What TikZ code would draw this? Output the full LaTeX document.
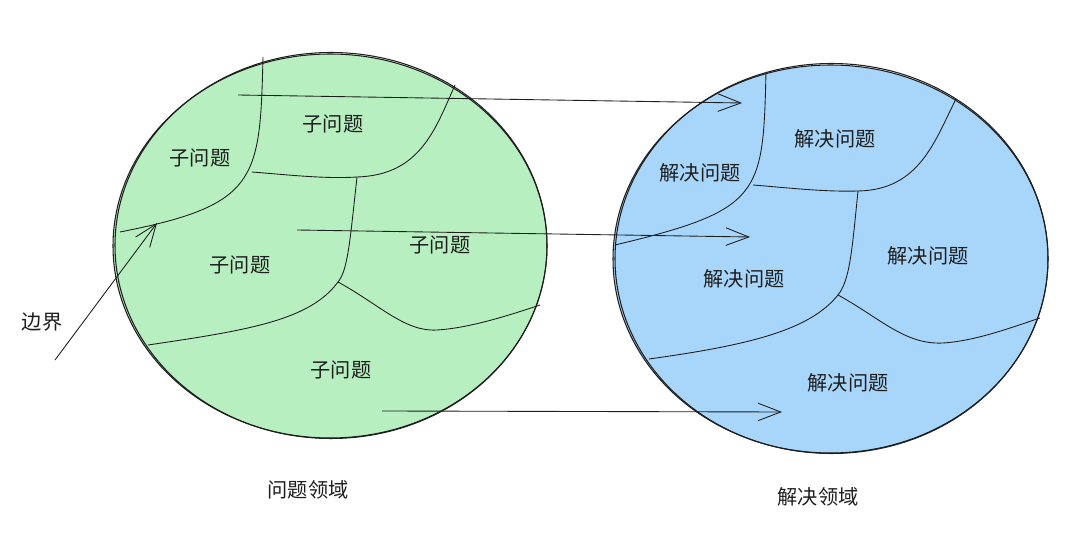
\documentclass[tikz,border=0pt]{standalone}
\usepackage{fontspec}
\setmainfont{Noto Sans CJK SC}
\usetikzlibrary{arrows.meta}
\definecolor{pgreen}{HTML}{B8EFC0}
\definecolor{pblue}{HTML}{A8D6FA}
\definecolor{ink}{HTML}{1E1E1E}
\begin{document}
\begin{tikzpicture}[x=0.02cm,y=-0.02cm,
  outline/.style={draw=ink,line width=0.6pt},
  divider/.style={draw=ink,line width=0.5pt},
  link/.style={draw=ink,line width=0.5pt,-{Straight Barb[length=13pt,width=10pt]}},
  lbl/.style={font=\fontsize{11.5}{13}\selectfont,text=ink,inner sep=0pt}]
\useasboundingbox[fill=white] (0,0) rectangle (1080,533);

% domains
\fill[pgreen] (330,246) ellipse [x radius=217, y radius=192];
\fill[pblue] (830.5,259) ellipse [x radius=217.5, y radius=194];
\path[outline] (330,246) ellipse [x radius=217, y radius=192];
\path[outline] (331,245.5) ellipse [x radius=216, y radius=193];
\path[outline] (830.5,259) ellipse [x radius=217.5, y radius=194];
\path[outline] (831.5,258.5) ellipse [x radius=216.5, y radius=195];

% green dividers
\coordinate (g1a) at (263,57);
\coordinate (g1b) at (120,232);
\coordinate (g2a) at (252,172);
\coordinate (gj) at (357,177);
\coordinate (g2b) at (455,85);
\coordinate (gk) at (338,282);
\coordinate (g3b) at (148,345);
\coordinate (g4m) at (437,330);
\coordinate (g4b) at (540,305);
\draw[divider] (g1a) .. controls (260,180) and (258,205) .. (g1b);
\draw[divider] (g2a) .. controls (290,175) and (325,179) .. (gj);
\draw[divider] (gj) .. controls (420,175) and (435,130) .. (g2b);
\draw[divider] (gj) .. controls (350,240) and (348,270) .. (gk);
\draw[divider] (gk) .. controls (310,320) and (250,330) .. (g3b);
\draw[divider] (gk) .. controls (380,305) and (405,332) .. (g4m);
\draw[divider] (g4m) .. controls (470,328) and (510,315) .. (g4b);

% blue dividers
\coordinate (b1a) at (766,72);
\coordinate (b1b) at (615,245);
\coordinate (b2a) at (753,185);
\coordinate (bj) at (858,191);
\coordinate (b2b) at (956,99);
\coordinate (bk) at (838,295);
\coordinate (b3b) at (649,359);
\coordinate (b4m) at (943,343);
\coordinate (b4b) at (1040,318);
\draw[divider] (b1a) .. controls (763,195) and (762,210) .. (b1b);
\draw[divider] (b2a) .. controls (790,188) and (825,192) .. (bj);
\draw[divider] (bj) .. controls (920,190) and (935,140) .. (b2b);
\draw[divider] (bj) .. controls (852,250) and (850,280) .. (bk);
\draw[divider] (bk) .. controls (810,330) and (750,345) .. (b3b);
\draw[divider] (bk) .. controls (880,318) and (905,345) .. (b4m);
\draw[divider] (b4m) .. controls (975,341) and (1010,328) .. (b4b);

% labels
\node[lbl] (p1) at (333,124) {子问题};
\node[lbl] (p2) at (200,158) {子问题};
\node[lbl] (p3) at (440,245) {子问题};
\node[lbl] (p4) at (240,265) {子问题};
\node[lbl] (p5) at (341,370) {子问题};
\node[lbl] (s1) at (835,139) {解决问题};
\node[lbl] (s2) at (700,173) {解决问题};
\node[lbl] (s3) at (928,256) {解决问题};
\node[lbl] (s4) at (744,279) {解决问题};
\node[lbl] (s5) at (848,383) {解决问题};
\node[lbl] (pd) at (308,490) {问题领域};
\node[lbl] (sd) at (818,497) {解决领域};
\node[lbl] (bd) at (42,322) {边界};

% arrows
\coordinate (a1s) at (238,95);  \coordinate (a1e) at (742,103);
\coordinate (a2s) at (297,230); \coordinate (a2e) at (750,237);
\coordinate (a3s) at (382,411); \coordinate (a3e) at (782,412);
\coordinate (bs) at (55,360);   \coordinate (be) at (157,223);
\draw[link] (a1s) -- (a1e);
\draw[link] (a2s) -- (a2e);
\draw[link] (a3s) -- (a3e);
\draw[link] (bs) -- (be);
\end{tikzpicture}
\end{document}
